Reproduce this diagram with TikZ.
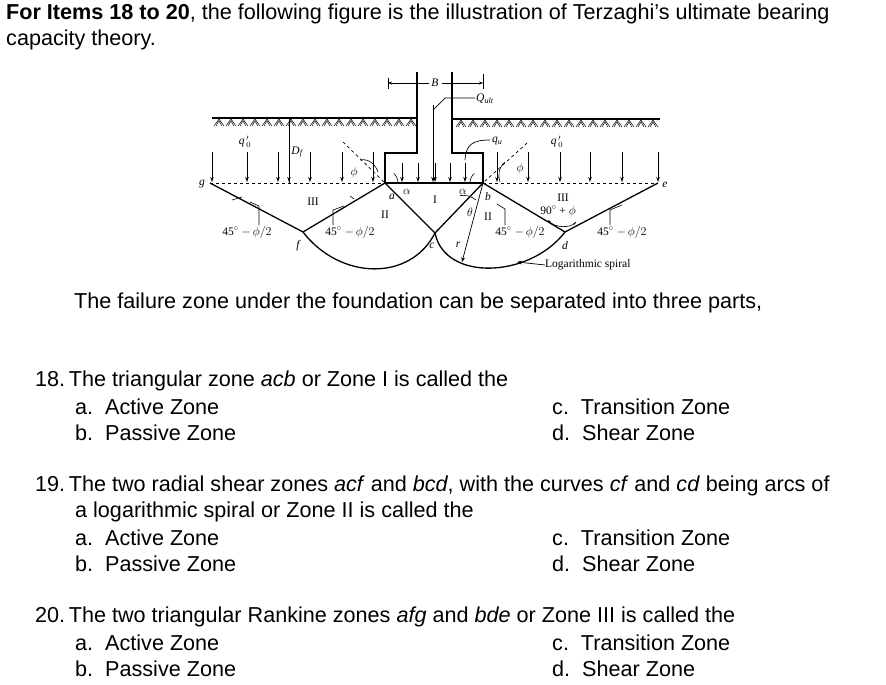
\documentclass[tikz,border=0pt]{standalone}
\usepackage{fontspec}
\setmainfont{Liberation Sans}
\newfontfamily\dgf{Liberation Serif}
\usetikzlibrary{arrows.meta}
\begin{document}
\begin{tikzpicture}[x=1pt,y=-1pt,
  txt/.style={anchor=west,inner sep=0pt,font=\fontsize{21.6}{24}\selectfont},
  lb/.style={inner sep=0pt,font=\dgf\fontsize{11.5}{13}\selectfont\itshape},
  lr/.style={inner sep=0pt,font=\dgf\fontsize{11.5}{13}\selectfont},
  ln/.style={line width=1.3pt},
  ar/.style={line width=0.9pt,-{Stealth[length=5pt,width=3.5pt]}}]
\useasboundingbox (0,0) rectangle (886,685);
\node[txt] (t1) at (6,14) {\textbf{For Items 18 to 20}, the following figure is the illustration of Terzaghi’s ultimate bearing};
\node[txt] (t2) at (6,40) {capacity theory.};
\node[txt] (t3) at (74,303) {The failure zone under the foundation can be separated into three parts,};
\node[txt] (q18) at (35,381) {18.\,The triangular zone \textit{acb} or Zone I is called the};
\node[txt] (q18a) at (75,407) {a.\ \ Active Zone};
\node[txt] (q18c) at (552,407) {c.\ \ Transition Zone};
\node[txt] (q18b) at (75,433) {b.\ \ Passive Zone};
\node[txt] (q18d) at (552,433) {d.\ \ Shear Zone};
\node[txt] (q19) at (35,486) {19.\,The two radial shear zones \textit{acf} and \textit{bcd}, with the curves \textit{cf} and \textit{cd} being arcs of};
\node[txt] (q19x) at (75,512) {a logarithmic spiral or Zone II is called the};
\node[txt] (q19a) at (75,538) {a.\ \ Active Zone};
\node[txt] (q19c) at (552,538) {c.\ \ Transition Zone};
\node[txt] (q19b) at (75,564) {b.\ \ Passive Zone};
\node[txt] (q19d) at (552,564) {d.\ \ Shear Zone};
\node[txt] (q20) at (35,617) {20.\,The two triangular Rankine zones \textit{afg} and \textit{bde} or Zone III is called the};
\node[txt] (q20a) at (75,643) {a.\ \ Active Zone};
\node[txt] (q20c) at (552,643) {c.\ \ Transition Zone};
\node[txt] (q20b) at (75,669) {b.\ \ Passive Zone};
\node[txt] (q20d) at (552,669) {d.\ \ Shear Zone};
\coordinate (g) at (210,183);
\coordinate (a) at (385,183);
\coordinate (b) at (483,183);
\coordinate (e) at (658,183);
\coordinate (f) at (303,232);
\coordinate (c) at (435,233);
\coordinate (d) at (565,232);
\draw[ln] (212,118) -- (417,118);
\draw[ln] (452,119) -- (660,119);
\foreach \x in {214,226,...,410} \draw[line width=0.5pt] (\x,126)--(\x+5,119)--(\x+10,126) (\x+2,126)--(\x+5,121)--(\x+8,126);
\foreach \x in {456,468,...,650} \draw[line width=0.5pt] (\x,127)--(\x+5,120)--(\x+10,127) (\x+2,127)--(\x+5,122)--(\x+8,127);
\draw[ln] (417,72) -- (417,153) -- (385,153) -- (a) -- (b) -- (483,153) -- (452,153) -- (452,72);
\draw[line width=0.7pt] (388,78)--(388,89) (483,74)--(483,89);
\draw[line width=0.7pt,{Stealth[length=4pt]}-] (388,83) -- (429,83);
\draw[line width=0.7pt,-{Stealth[length=4pt]}] (442,83) -- (483,83);
\node[lb] (B) at (435,83) {B};
\draw[dashed,line width=0.8pt] (g) -- (a) (b) -- (e);
\draw[ln] (g) -- (f) -- (a) -- (c) (b) -- (c) (b) -- (d) -- (e);
\draw[ln] (f) .. controls (340,280) and (410,282) .. (c);
\draw[ln] (c) .. controls (445,282) and (530,278) .. (d);
\foreach \x in {212,247,278,310,342,373,497,528,560,590,622,658} \draw[ar] (\x,152) -- (\x,182);
\foreach \x in {402,418,435,450,465} \draw[ar] (\x,163) -- (\x,182);
\draw[ar] (433,105) -- (433,182);
\draw[line width=0.7pt] (433,110) -- (445,98) -- (475,98);
\node[lb,anchor=west] (Q) at (476,99) {Q\textsubscript{ult}};
\draw[line width=0.7pt] (465,160) .. controls (466,145) and (472,140) .. (490,140);
\node[lb,anchor=west] (qu) at (492,141) {q\textsubscript{u}};
\node[lb] (q0l) at (245,142) {q\,$'_0$};
\node[lb] (q0r) at (557,142) {q\,$'_0$};
\draw[line width=0.7pt] (289,118) -- (289,183);
\draw[ar] (289,160) -- (289,182);
\node[lb] (Df) at (297,152) {D\textsubscript{f}};
\draw[dashed,line width=0.7pt] (343,142) -- (a);
\draw[line width=0.6pt] (360,160) .. controls (370,158) and (376,166) .. (378,172);
\node[lb] (phl) at (354,172) {$\phi$};
\draw[dashed,line width=0.7pt] (527,143) -- (b);
\draw[line width=0.6pt] (505,162) .. controls (498,168) and (498,176) .. (500,182);
\node[lb] (phr) at (520,168) {$\phi$};
\draw[line width=0.6pt] (398,183) arc[start angle=0,end angle=-48,radius=13];
\draw[line width=0.6pt] (470,183) arc[start angle=180,end angle=228,radius=13];
\node[lb] (al) at (407,192) {$\alpha$};
\node[lb] (ar2) at (463,192) {$\alpha$};
\draw[line width=0.7pt,-{Stealth[length=5pt]}] (b) -- (462,262);
\draw[line width=0.6pt] (476,200) arc[start angle=-50,end angle=-100,radius=20];
\node[lb] (th) at (470,212) {$\theta$};
\node[lb] (rr) at (458,245) {r};
\node[lr] (I) at (435,200) {I};
\node[lr] (IIl) at (385,215) {II};
\node[lr] (IIr) at (488,217) {II};
\node[lr] (IIIl) at (313,202) {III};
\node[lr] (IIIr) at (563,198) {III};
\node[lr] (ninety) at (558,211) {90$^\circ$ + $\phi$};
\draw[line width=0.6pt,{Stealth[length=3pt]}-{Stealth[length=3pt]}] (548,220) .. controls (555,228) and (570,228) .. (576,222);
\node[lb] (gl) at (202,184) {g};
\node[lb] (al2) at (392,197) {a};
\node[lb] (bl) at (488,197) {b};
\node[lb] (el) at (665,185) {e};
\node[lb] (fl) at (298,246) {f};
\node[lb] (cl) at (432,246) {c};
\node[lb] (dl) at (565,246) {d};
\node[lr] (an1) at (247,232) {45$^\circ$ $-\,\phi/2$};
\node[lr] (an2) at (350,232) {45$^\circ$ $-\,\phi/2$};
\node[lr] (an3) at (520,232) {45$^\circ$ $-\,\phi/2$};
\node[lr] (an4) at (622,232) {45$^\circ$ $-\,\phi/2$};
\draw[line width=0.6pt] (259,225) -- (259,206) -- (250,202) (232,200) -- (242,197);
\draw[line width=0.6pt] (333,225) -- (333,210) -- (344,206) (350,196) -- (354,199);
\draw[line width=0.6pt] (505,225) -- (505,209) -- (497,204);
\draw[line width=0.6pt] (610,225) -- (610,210) -- (622,205);
\node[lr,anchor=west] (ls) at (545,265) {Logarithmic spiral};
\draw[line width=0.7pt,-{Stealth[length=5pt]}] (ls.west) -- (517,262);
\end{tikzpicture}
\end{document}
